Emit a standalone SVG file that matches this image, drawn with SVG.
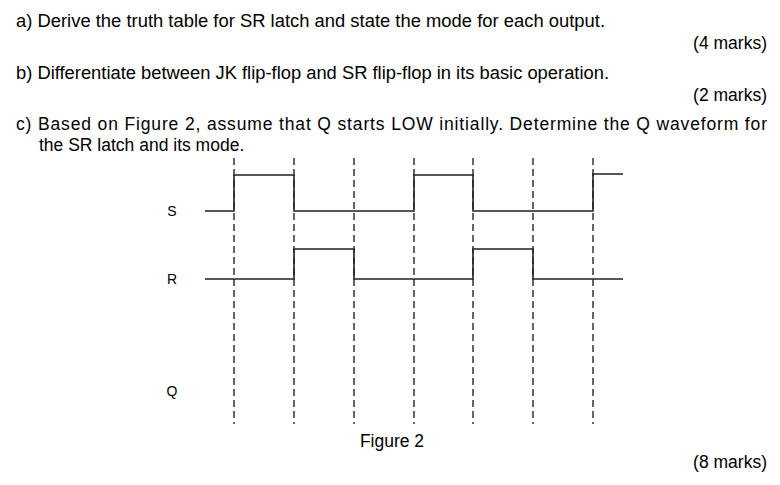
<svg xmlns="http://www.w3.org/2000/svg" width="780" height="485" viewBox="0 0 780 485">
<style>
text{font-family:"Liberation Sans",Arial,sans-serif;font-size:17.5px;fill:#000}
.lbl{font-size:14px;text-anchor:middle}
.w{fill:none;stroke:#222;stroke-width:1.6}
.d{stroke:#333;stroke-width:1.5;stroke-dasharray:7 4}
</style>
<rect width="780" height="485" fill="#fff"/>
<g id="text">
<text x="16" y="27" textLength="589" lengthAdjust="spacingAndGlyphs">a) Derive the truth table for SR latch and state the mode for each output.</text>
<text x="767" y="49" text-anchor="end">(4 marks)</text>
<text x="16" y="79" textLength="593" lengthAdjust="spacingAndGlyphs">b) Differentiate between JK flip-flop and SR flip-flop in its basic operation.</text>
<text x="767" y="101" text-anchor="end">(2 marks)</text>
<text x="16" y="130" textLength="751" lengthAdjust="spacing">c) Based on Figure 2, assume that Q starts LOW initially. Determine the Q waveform for</text>
<text x="39" y="151">the SR latch and its mode.</text>
<text x="392" y="447" text-anchor="middle">Figure 2</text>
<text x="767" y="468" text-anchor="end">(8 marks)</text>
</g>
<g id="grid">
<line class="d" x1="234" y1="158" x2="234" y2="424"/>
<line class="d" x1="294" y1="158" x2="294" y2="424"/>
<line class="d" x1="354" y1="158" x2="354" y2="424"/>
<line class="d" x1="414" y1="158" x2="414" y2="424"/>
<line class="d" x1="473" y1="158" x2="473" y2="424"/>
<line class="d" x1="533" y1="158" x2="533" y2="424"/>
<line class="d" x1="593" y1="158" x2="593" y2="424"/>
</g>
<g id="S"><text class="lbl" x="172" y="216">S</text>
<polyline class="w" points="205,211 234,211 234,175 294,175 294,211 414,211 414,175 473,175 473,211 593,211 593,174 623,174"/></g>
<g id="R"><text class="lbl" x="172" y="284">R</text>
<polyline class="w" points="205,279 294,279 294,249 354,249 354,279 473,279 473,249 533,249 533,279 623,279"/></g>
<g id="Q"><text class="lbl" x="172" y="396">Q</text></g>
</svg>
